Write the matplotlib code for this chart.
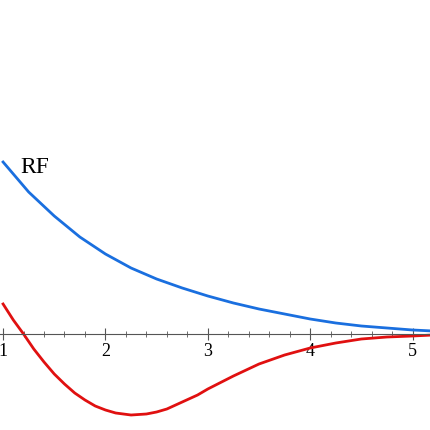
import matplotlib
matplotlib.use("Agg")
import matplotlib.pyplot as plt
from matplotlib.ticker import MultipleLocator

bx = [1.0, 1.25, 1.5, 1.75, 2.0, 2.25, 2.5, 2.75, 3.0, 3.25, 3.5, 3.75, 4.0, 4.25, 4.5, 4.75, 5.0, 5.2]
by = [1.72, 1.42, 1.18, 0.97, 0.80, 0.66, 0.55, 0.46, 0.38, 0.31, 0.25, 0.20, 0.15, 0.11, 0.08, 0.06, 0.04, 0.03]
rx = [1.0, 1.1, 1.2, 1.3, 1.4, 1.5, 1.6, 1.7, 1.8, 1.9, 2.0, 2.1, 2.25, 2.4, 2.5, 2.6, 2.75, 2.9, 3.0, 3.25, 3.5, 3.75, 4.0, 4.25, 4.5, 4.75, 5.0, 5.2]
ry = [0.30, 0.14, 0.0, -0.15, -0.28, -0.40, -0.50, -0.59, -0.66, -0.72, -0.76, -0.79, -0.81, -0.80, -0.78, -0.75, -0.68, -0.61, -0.55, -0.42, -0.30, -0.21, -0.14, -0.09, -0.05, -0.03, -0.02, -0.01]

fig = plt.figure(figsize=(4.31, 4.31), dpi=100)
ax = fig.add_axes([0, 0, 1, 1])
ax.plot(bx, by, color="#1a6fdf", lw=2, solid_joinstyle="round")
ax.plot(rx, ry, color="#e01010", lw=2, solid_joinstyle="round")
ax.set_xlim(0.97, 5.18)
ax.set_ylim(-0.96, 3.35)
for s in ["left", "right", "top"]:
    ax.spines[s].set_visible(False)
ax.spines["bottom"].set_position(("data", 0))
ax.spines["bottom"].set_color("#555555")
ax.set_yticks([])
ax.xaxis.set_major_locator(MultipleLocator(1))
ax.xaxis.set_minor_locator(MultipleLocator(0.2))
ax.tick_params(axis="x", which="major", direction="inout", length=8, color="#555555", labelsize=13, pad=2)
ax.tick_params(axis="x", which="minor", direction="inout", length=5, color="#555555")
for t in ax.get_xticklabels():
    t.set_family("Liberation Serif")
ax.text(1.17, 1.68, "RF", fontsize=17, family="Liberation Serif", va="center")
fig.savefig("out.png", dpi=100)
